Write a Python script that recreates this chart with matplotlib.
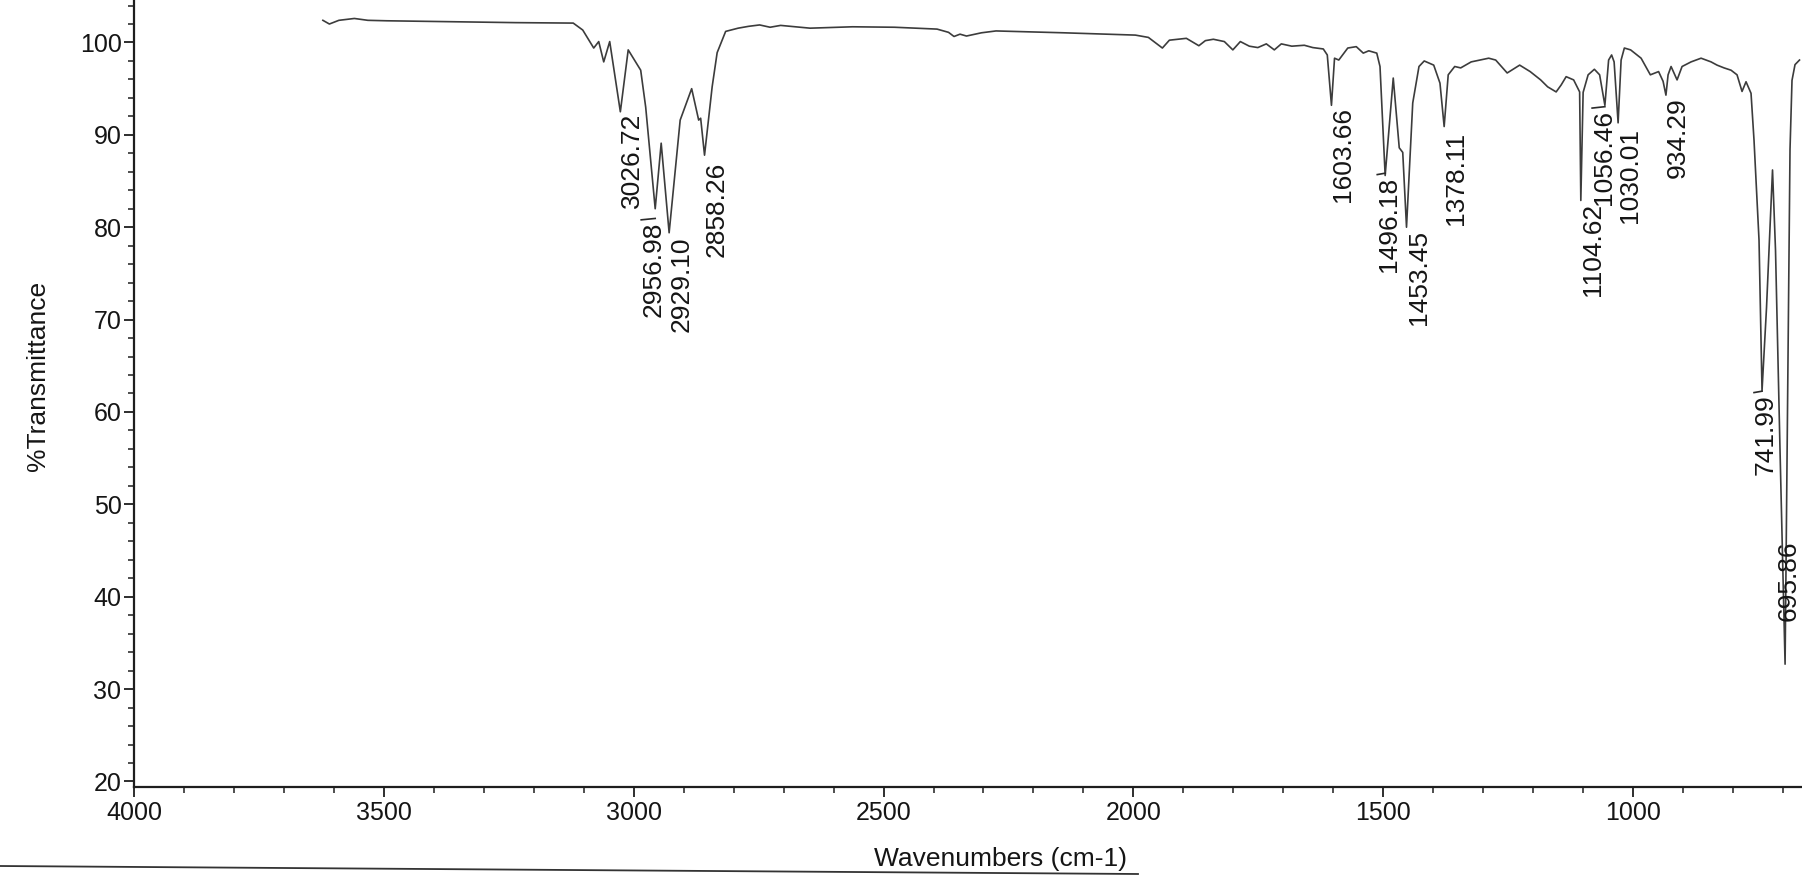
import matplotlib.pyplot as plt
from matplotlib.ticker import MultipleLocator
from matplotlib.lines import Line2D

plt.rcParams['font.family'] = ['Liberation Sans', 'DejaVu Sans']

# spectrum (cm-1, %T); the part above ~3620 is hidden on the page
wavenumber = [
    3622, 3609, 3590, 3559, 3532, 3494, 3366, 3237, 3121, 3102,
    3080, 3070, 3060, 3048, 3026.72, 3011, 2986, 2976, 2956.98, 2945,
    2929.10, 2907, 2884, 2870, 2866, 2858.26, 2843, 2833, 2816, 2791,
    2770, 2748, 2727, 2706, 2647, 2562, 2478, 2393, 2370, 2359,
    2347, 2334, 2304, 2275, 2140, 1996, 1970, 1942, 1928, 1894,
    1869, 1856, 1840, 1818, 1801, 1786, 1768, 1751, 1734, 1718,
    1704, 1683, 1658, 1641, 1620, 1612, 1603.66, 1597.5, 1589, 1571,
    1554, 1540, 1529, 1513, 1506.5, 1496.18, 1480, 1468, 1461, 1453.45,
    1441, 1428.5, 1418, 1399, 1386.5, 1378.11, 1370, 1357, 1345, 1324,
    1289, 1275, 1252, 1227, 1206, 1185, 1171, 1154, 1144, 1134,
    1119, 1107, 1104.62, 1100, 1090, 1077.5, 1067, 1056.46, 1049, 1043,
    1038, 1030.01, 1024, 1017.5, 1005, 984, 965.5, 949, 940, 934.29,
    930, 924, 912, 902, 884, 864, 844, 832, 818, 804,
    792, 782, 774, 764, 758, 748, 741.99, 733, 728, 721,
    715, 706, 695.86, 689, 686, 682, 676, 667,
]
transmittance = [
    102.4, 102.0, 102.4, 102.6, 102.4, 102.35, 102.25, 102.15, 102.1, 101.35,
    99.4, 100.1, 97.9, 100.1, 92.5, 99.2, 97.0, 93.0, 82.0, 89.1,
    79.4, 91.6, 95.0, 91.6, 91.8, 87.8, 95.2, 98.9, 101.2, 101.55,
    101.75, 101.9, 101.65, 101.85, 101.55, 101.7, 101.65, 101.45, 101.1, 100.65,
    100.9, 100.7, 101.05, 101.25, 101.05, 100.8, 100.55, 99.4, 100.25, 100.45,
    99.65, 100.2, 100.35, 100.1, 99.2, 100.1, 99.6, 99.45, 99.85, 99.2,
    99.85, 99.6, 99.7, 99.45, 99.3, 98.65, 93.2, 98.3, 98.1, 99.4,
    99.55, 98.85, 99.1, 98.85, 97.4, 85.6, 96.15, 88.6, 88.1, 80.0,
    93.45, 97.4, 98.0, 97.55, 95.6, 90.9, 96.5, 97.4, 97.25, 97.9,
    98.3, 98.1, 96.7, 97.55, 96.85, 95.95, 95.2, 94.65, 95.4, 96.3,
    95.95, 94.65, 82.9, 94.6, 96.5, 97.1, 96.5, 93.2, 98.1, 98.65,
    97.9, 91.3, 98.1, 99.4, 99.2, 98.3, 96.5, 96.85, 95.8, 94.3,
    96.5, 97.4, 95.95, 97.4, 97.9, 98.3, 97.9, 97.55, 97.25, 97.0,
    96.5, 94.7, 95.75, 94.5, 89.4, 78.6, 62.3, 71.3, 77.5, 86.2,
    77.5, 55.9, 32.7, 72.0, 88.4, 95.9, 97.6, 98.1,
]

# peak labels: text, peak position, where the label sits (x, top of text)
peak_text = ['3026.72', '2956.98', '2929.10', '2858.26', '1603.66', '1496.18',
             '1453.45', '1378.11', '1104.62', '1056.46', '1030.01', '934.29',
             '741.99', '695.86']
peak_wn = [3026.72, 2956.98, 2929.10, 2858.26, 1603.66, 1496.18,
           1453.45, 1378.11, 1104.62, 1056.46, 1030.01, 934.29,
           741.99, 695.86]
peak_t = [92.5, 82.0, 79.4, 87.8, 93.2, 85.6, 80.0, 90.9, 82.9, 93.2, 91.3,
          94.3, 62.3, 32.7]
label_wn = [3026.72, 2985, 2929.10, 2858.26, 1603.66, 1512,
            1453.45, 1378.11, 1104.62, 1082, 1030.01, 934.29,
            758, 712]
label_top = [92.4, 80.6, 79.0, 87.1, 93.05, 85.5, 79.7, 90.3, 82.6, 92.7,
             90.7, 94.1, 61.9, 46.1]

W, H = 1802, 884
fig = plt.figure(figsize=(W / 100, H / 100), dpi=100)
ax = fig.add_axes([134 / W, (H - 787) / H, 1 - 134 / W, 787 / H])

ax.plot(wavenumber, transmittance, color='#3c3c3c', lw=1.2)

for txt, pw, pt, lw_, lt in zip(peak_text, peak_wn, peak_t, label_wn, label_top):
    if lw_ != pw and txt != '695.86':
        # short leader from the peak tip to the shifted label
        ax.plot([pw, lw_], [lt + 0.35, lt + 0.2], color='#2a2a2a', lw=1.2)
    ax.text(lw_, lt, txt, rotation=90, ha='left', va='top',
            fontsize=19, color='#151515', clip_on=False)

ax.set_xlim(4000, 662)
ax.set_ylim(19.4, 104.6)

ax.spines['top'].set_visible(False)
ax.spines['right'].set_visible(False)
for s in ['left', 'bottom']:
    ax.spines[s].set_linewidth(1.6)
    ax.spines[s].set_color('#1e1e1e')

ax.set_xticks([4000, 3500, 3000, 2500, 2000, 1500, 1000])
ax.xaxis.set_minor_locator(MultipleLocator(100))
ax.set_yticks([20, 30, 40, 50, 60, 70, 80, 90, 100])
ax.yaxis.set_minor_locator(MultipleLocator(2))
ax.tick_params(which='major', length=7, width=1.3, labelsize=18,
               color='#1e1e1e', labelcolor='#151515')
ax.tick_params(which='minor', length=4.5, width=1.1, color='#1e1e1e')
ax.tick_params(axis='x', which='major', pad=3)
ax.tick_params(axis='y', which='major', pad=2)

fig.text(38 / W, 1 - 376 / H, '%Transmittance', rotation=90,
         ha='center', va='center', fontsize=19, color='#151515')
fig.text(1001 / W, 1 - 859 / H, 'Wavenumbers (cm-1)',
         ha='center', va='center', fontsize=19, color='#151515')

# the rule printed under the axis title
fig.add_artist(Line2D([0, 1138 / W], [1 - 866 / H, 1 - 874 / H],
                      transform=fig.transFigure, color='#333333', lw=1.3))

fig.savefig('out.png', dpi=100)
